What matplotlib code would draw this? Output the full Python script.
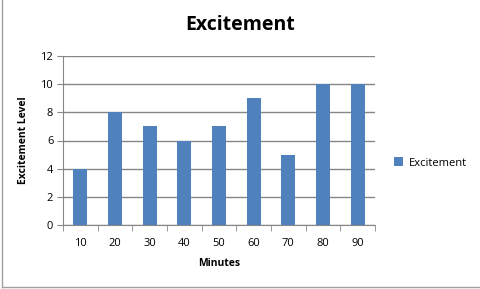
import matplotlib.pyplot as plt
from matplotlib.lines import Line2D
import numpy as np

minutes = ['10', '20', '30', '40', '50', '60', '70', '80', '90']
excitement = [4, 8, 7, 6, 7, 9, 5, 10, 10]

plt.rcParams['font.family'] = ['Open Sans', 'DejaVu Sans']

fig = plt.figure(figsize=(4.8, 2.89), dpi=100)
ax = fig.add_axes([63 / 480, 1 - 225 / 289, 312 / 480, 169 / 289])

x = np.arange(len(minutes))
ax.bar(x, excitement, width=0.4, color='#4F81BD', label='Excitement', zorder=3)

ax.set_xlim(-0.5, len(minutes) - 0.5)
ax.set_ylim(0, 12)
ax.set_yticks(np.arange(0, 13, 2))
ax.set_xticks(x)
ax.set_xticklabels(minutes)
ax.set_xticks(np.arange(-0.5, len(minutes), 1), minor=True)
ax.tick_params(axis='x', which='major', length=0, labelsize=8, pad=9)
ax.tick_params(axis='x', which='minor', length=4, color='#868686', direction='out')
ax.tick_params(axis='y', length=4, color='#868686', labelsize=8, pad=3)
ax.grid(axis='y', color='#868686', linewidth=1, zorder=0)

for side in ['top', 'right']:
    ax.spines[side].set_visible(False)
for side in ['left', 'bottom']:
    ax.spines[side].set_color('#868686')

ax.set_xlabel('Minutes', fontsize=7.5, fontweight='bold', labelpad=7)
ax.set_ylabel('Excitement Level', fontsize=7.5, fontweight='bold', labelpad=8)
fig.text(0.5, 1 - 25 / 289, 'Excitement', ha='center', va='center', fontsize=14, fontweight='bold')

ax.legend(loc='center left', bbox_to_anchor=(1.03, 0.367), frameon=False, fontsize=8,
          handlelength=0.8, handleheight=0.8, handletextpad=0.5)

# chart border (left and bottom visible)
fig.add_artist(Line2D([2 / 480, 2 / 480], [1, 1 - 287 / 289], color='#A0A0A0', linewidth=1))
fig.add_artist(Line2D([2 / 480, 1], [1 - 287 / 289, 1 - 287 / 289], color='#A0A0A0', linewidth=1))

fig.savefig('out.png', dpi=100)
